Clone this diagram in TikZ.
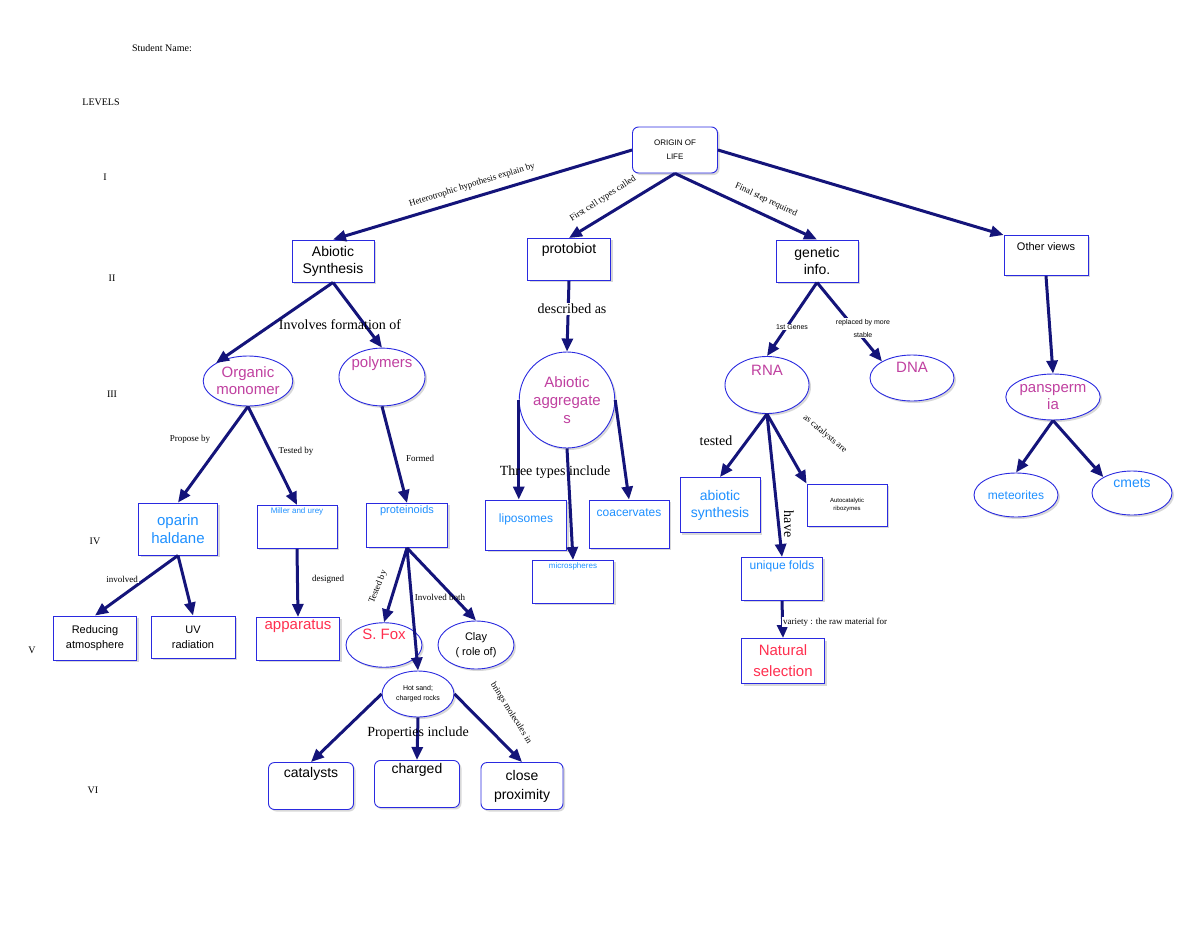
\documentclass[tikz,border=0pt]{standalone}
\usepackage{fontspec}
\setmainfont{Liberation Serif}
\newfontfamily\mysf{Liberation Sans}
\usetikzlibrary{arrows.meta,shapes.geometric,shadows}
\definecolor{edge}{HTML}{14147A}
\definecolor{bord}{HTML}{2A2AE0}
\definecolor{mag}{HTML}{C040A0}
\definecolor{sky}{HTML}{1E90FF}
\definecolor{rd}{HTML}{FF2F4F}
\begin{document}
\begin{tikzpicture}[x=1pt,y=-1pt,
 box/.style={draw=bord,fill=white,line width=0.9pt,minimum width=#1,drop shadow={shadow xshift=2pt,shadow yshift=-2pt,fill=gray!60},font=\mysf,align=center,inner sep=1pt},
 box/.default=80pt,
 rbox/.style={box=#1,rounded corners=6pt},
 rbox/.default=84pt,
 ell/.style={ellipse,draw=bord,fill=white,line width=0.9pt,drop shadow={shadow xshift=2pt,shadow yshift=-2pt,fill=gray!60},font=\mysf,align=center,inner sep=0pt},
 ar/.style={draw=edge,line width=3pt,-{Triangle[length=13pt,width=11pt]}},
 lab/.style={font=\fontsize{9}{10}\selectfont,fill=white,inner sep=1pt},
 big/.style={font=\fontsize{14}{15}\selectfont,fill=white,inner sep=1pt}]
\useasboundingbox (0,0) rectangle (1200,927);
\node (sn) at (162,48) {\fontsize{10}{11}\selectfont Student Name:};
\node (lv) at (101,102) {\fontsize{10}{11}\selectfont LEVELS};
\node (l1) at (105,177) {\fontsize{10}{11}\selectfont I};
\node (l2) at (112,278) {\fontsize{10}{11}\selectfont II};
\node (l3) at (112,394) {\fontsize{10}{11}\selectfont III};
\node (l4) at (95,541) {\fontsize{10}{11}\selectfont IV};
\node (l5) at (32,650) {\fontsize{10}{11}\selectfont V};
\node (l6) at (93,790) {\fontsize{10}{11}\selectfont VI};

\node[rbox=85pt,minimum height=46pt,font=\mysf\fontsize{8}{14}\selectfont] (ol) at (675,150) {ORIGIN OF\\LIFE};
\node[box=82pt,minimum height=42pt,font=\mysf\fontsize{14}{17}\selectfont] (as) at (333,261) {Abiotic\\Synthesis};
\node[box=83pt,minimum height=42pt,font=\mysf\fontsize{14}{17}\selectfont,anchor=north] (pb) at (569,238) {protobiot\\\strut};
\node[box=82pt,minimum height=42pt,font=\mysf\fontsize{14}{17}\selectfont] (gi) at (817,261) {genetic\\info.};
\node[box=84pt,minimum height=40pt,font=\mysf\fontsize{11}{14}\selectfont,anchor=north] (ov) at (1046,235) {Other views\\\strut};

\node[ell,minimum width=84pt,minimum height=50pt,text=mag,font=\mysf\fontsize{15}{17}\selectfont] (om) at (248,381) {Organic\\monomer};
\node[ell,minimum width=80pt,minimum height=50pt,text=mag,font=\mysf\fontsize{15}{16}\selectfont] (po) at (382,377) {polymers\\[14pt]};
\node[ell,minimum width=84pt,minimum height=96pt,text=mag,font=\mysf\fontsize{15}{18}\selectfont] (aa) at (567,400) {Abiotic\\aggregate\\s};
\node[ell,minimum width=84pt,minimum height=50pt,text=mag,font=\mysf\fontsize{15}{16}\selectfont] (rna) at (767,385) {RNA\\[14pt]};
\node[ell,minimum width=84pt,minimum height=46pt,text=mag,font=\mysf\fontsize{15}{16}\selectfont] (dna) at (912,378) {DNA\\[6pt]};
\node[ell,minimum width=88pt,minimum height=46pt,text=mag,font=\mysf\fontsize{15}{17}\selectfont] (pa) at (1053,397) {pansperm\\ia};

\node[box=79pt,minimum height=52pt,text=sky,font=\mysf\fontsize{15}{18}\selectfont] (op) at (178,529) {oparin\\haldane};
\node[box=80pt,minimum height=43pt,text=sky,font=\mysf\fontsize{8}{10}\selectfont,anchor=north] (mu) at (297,505) {Miller and urey\\[22pt]};
\node[box=81pt,minimum height=44pt,text=sky,font=\mysf\fontsize{11}{13}\selectfont,anchor=north] (pr) at (407,503) {proteinoids\\[18pt]};
\node[box=81pt,minimum height=50pt,text=sky,font=\mysf\fontsize{12}{14}\selectfont] (li) at (526,525) {liposomes\\[0pt]};
\node[box=80pt,minimum height=48pt,text=sky,font=\mysf\fontsize{12}{14}\selectfont] (co) at (629,524) {coacervates\\[8pt]};
\node[box=81pt,minimum height=43pt,text=sky,font=\mysf\fontsize{8}{10}\selectfont,anchor=north] (mi) at (573,560) {microspheres\\[22pt]};
\node[box=80pt,minimum height=55pt,text=sky,font=\mysf\fontsize{14}{17}\selectfont] (ab) at (720,505) {abiotic\\synthesis};
\node[box=80pt,minimum height=42pt,font=\mysf\fontsize{6}{8}\selectfont] (ar) at (847,505) {Autocatalytic\\ribozymes};
\node[ell,minimum width=84pt,minimum height=44pt,text=sky,font=\mysf\fontsize{12}{14}\selectfont] (me) at (1016,495) {meteorites};
\node[ell,minimum width=80pt,minimum height=44pt,text=sky,font=\mysf\fontsize{14}{16}\selectfont] (cm) at (1132,493) {cmets\\[4pt]};
\node[box=81pt,minimum height=43pt,text=sky,font=\mysf\fontsize{12}{14}\selectfont,anchor=north] (uf) at (782,557) {unique folds\\[14pt]};
\node[box=83pt,minimum height=45pt,text=rd,font=\mysf\fontsize{15}{21}\selectfont] (ns) at (783,661) {Natural\\selection};
\node[box=83pt,minimum height=44pt,font=\mysf\fontsize{11}{15}\selectfont] (ra) at (95,638) {Reducing\\atmosphere};
\node[box=84pt,minimum height=42pt,font=\mysf\fontsize{11}{15}\selectfont] (uv) at (193,637) {UV\\radiation};
\node[box=83pt,minimum height=43pt,text=rd,font=\mysf\fontsize{15}{17}\selectfont,anchor=north] (ap) at (298,617) {apparatus\\[12pt]};
\node[ell,minimum width=76pt,minimum height=42pt,text=rd,font=\mysf\fontsize{15}{17}\selectfont] (sf) at (384,645) {S. Fox\\[4pt]};
\node[ell,minimum width=76pt,minimum height=48pt,font=\mysf\fontsize{11}{15}\selectfont] (cl) at (476,645) {Clay\\( role of)};
\node[ell,minimum width=72pt,minimum height=46pt,font=\mysf\fontsize{7}{10}\selectfont] (hs) at (418,694) {Hot sand;\\charged rocks};
\node[rbox=85pt,minimum height=47pt,font=\mysf\fontsize{14}{17}\selectfont] (ca) at (311,786) {catalysts\\[10pt]};
\node[rbox=85pt,minimum height=47pt,font=\mysf\fontsize{14}{17}\selectfont,anchor=north] (ch) at (417,760) {charged\\[14pt]};
\node[rbox=82pt,minimum height=47pt,font=\mysf\fontsize{14}{19}\selectfont] (cp) at (522,786) {close\\proximity};

% edges
\draw[ar] (ol.west) -- (as.north);
\draw[ar] (ol.south) -- (pb.north);
\draw[ar] (ol.south) -- (gi.north);
\draw[ar] (ol.east) -- (ov.north west);
\draw[ar] (as.south) -- (om.north west);
\draw[ar] (as.south) -- (po.north);
\draw[ar] (pb.south) -- (aa.north);
\draw[ar] (gi.south) -- (rna.north);
\draw[ar] (gi.south) -- (dna.north west);
\draw[ar] (om.south) -- (op.north);
\draw[ar] (om.south) -- (mu.north);
\draw[ar] (po.south) -- (pr.north);
\draw[ar] (aa.west) -- (aa.west |- li.north);
\draw[ar] (aa.east) -- (co.north);
\draw[ar] (aa.south) -- (mi.north);
\draw[ar] (rna.south) -- (ab.north);
\draw[ar] (rna.south) -- (ar.north west);
\draw[ar] (rna.south) -- (uf.north);
\draw[ar] (ov.south) -- (pa.north);
\draw[ar] (pa.south) -- (me.north);
\draw[ar] (pa.south) -- (cm.north west);
\draw[ar] (op.south) -- (ra.north);
\draw[ar] (op.south) -- (uv.north);
\draw[ar] (mu.south) -- (ap.north);
\draw[ar] (pr.south) -- (sf.north);
\draw[ar] (pr.south) -- (cl.north);
\draw[ar] (pr.south) -- (hs.north);
\draw[ar] (hs.west) -- (ca.north);
\draw[ar] (hs.south) -- (ch.north);
\draw[ar] (hs.east) -- (cp.north);
\draw[ar] (uf.south) -- (ns.north);

% labels
\node[lab,rotate=17,fill=none] (e1) at (472,185) {Heterotrophic hypothesis explain by};
\node[lab,rotate=33,fill=none] (e2) at (603,199) {First cell types called};
\node[lab,rotate=-25,fill=none] (e3) at (766,200) {Final step required};
\node[big,fill=none] (e4) at (340,325) {Involves formation of};
\node[big] (e5) at (572,309) {described as};
\node[lab,font=\mysf\fontsize{7}{9}\selectfont] (e6) at (792,327) {1st Genes};
\node[lab,font=\mysf\fontsize{7}{13}\selectfont,align=center] (e7) at (863,328) {replaced by more\\stable};
\node[lab] (e8) at (190,439) {Propose by};
\node[lab] (e9) at (296,451) {Tested by};
\node[lab] (e10) at (420,458) {Formed};
\node[big,fill=none] (e11) at (555,472) {Three types include};
\node[big] (e12) at (716,441) {tested};
\node[lab,rotate=-40,fill=none] (e13) at (825,434) {as catalysts are};
\node[big,rotate=-90] (e14) at (789,524) {have};
\node[lab] (e15) at (122,579) {involved};
\node[lab] (e16) at (328,579) {designed};
\node[lab,rotate=68,fill=none] (e17) at (378,587) {Tested by};
\node[lab,fill=none] (e18) at (440,597) {Involved both};
\node[lab,rotate=-58,fill=none] (e19) at (511,713) {brings molecules in};
\node[big,fill=none] (e20) at (418,733) {Properties include};
\node[lab] (e21) at (835,622) {variety : the raw material for};
\end{tikzpicture}
\end{document}
